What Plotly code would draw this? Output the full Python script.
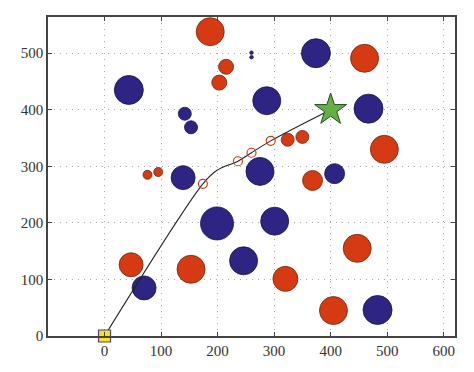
import plotly.graph_objects as go

# ---- data ----
red_x = [187, 215, 203, 76, 95, 47, 153, 460, 324, 350, 495, 368, 447, 320, 405]
red_y = [538, 476, 448, 285, 290, 126, 118, 491, 347, 352, 330, 275, 155, 101, 45]
red_w = [28, 15, 15, 9, 9, 24, 28, 28, 13, 13, 28, 20, 28, 25, 28]

blue_x = [43, 142, 153, 139, 70, 199, 246, 287, 275, 301, 374, 467, 407, 483, 260, 260]
blue_y = [435, 393, 369, 280, 85, 199, 133, 416, 291, 203, 500, 402, 287, 46, 501, 493]
blue_w = [29, 13, 13, 24, 24, 33, 28, 28, 28, 28, 29, 29, 20, 29, 3.5, 3.5]

path_x = [0, 174, 199, 236, 260, 294, 400]
path_y = [0, 269, 293, 309, 324, 345, 400]

wp_x = [174, 236, 260, 294]
wp_y = [269, 309, 324, 345]

start_x, start_y = [0], [0]
goal_x, goal_y = [400], [400]

x_ticks = [0, 100, 200, 300, 400, 500, 600]
y_ticks = [0, 100, 200, 300, 400, 500]

RED = "#d53a12"
BLUE = "#2e2483"

fig = go.Figure()
fig.add_trace(go.Scatter(
    x=red_x, y=red_y, mode="markers",
    marker=dict(size=red_w, color=RED, line=dict(color="#6a2a10", width=0.8), opacity=1),
    hoverinfo="skip", showlegend=False))
fig.add_trace(go.Scatter(
    x=blue_x, y=blue_y, mode="markers",
    marker=dict(size=blue_w, color=BLUE, line=dict(color="#1a1450", width=0.8), opacity=1),
    hoverinfo="skip", showlegend=False))
fig.add_trace(go.Scatter(
    x=path_x, y=path_y, mode="lines",
    line=dict(color="#222222", width=1.1, shape="spline", smoothing=0.9),
    hoverinfo="skip", showlegend=False))
fig.add_trace(go.Scatter(
    x=wp_x, y=wp_y, mode="markers",
    marker=dict(size=9, color="rgba(255,255,255,0)", line=dict(color=RED, width=1.2)),
    hoverinfo="skip", showlegend=False))
fig.add_trace(go.Scatter(
    x=start_x, y=start_y, mode="markers",
    marker=dict(size=12, symbol="square", color="#f5e61a", line=dict(color="#5a3c8c", width=1.2)),
    hoverinfo="skip", showlegend=False, cliponaxis=False))
fig.add_trace(go.Scatter(
    x=goal_x, y=goal_y, mode="markers",
    marker=dict(size=24, symbol="star", color="#62b046", line=dict(color="#2f4a25", width=1)),
    hoverinfo="skip", showlegend=False))

axis_common = dict(
    showgrid=True, gridcolor="#a8a8a8", griddash="1px,5px", gridwidth=1,
    zeroline=False, showline=True, linecolor="#444444", linewidth=1.5,
    mirror="ticks", ticks="inside", ticklen=4, tickwidth=1, tickcolor="#444444",
    tickfont=dict(family="Liberation Serif", size=15, color="#333333"),
    automargin=False,
)
fig.update_xaxes(range=[-100, 620], tickvals=x_ticks, **axis_common)
fig.update_yaxes(range=[0, 564], tickvals=y_ticks, **axis_common)

# page body adds an 8px offset; size and margins compensate for it
fig.update_layout(
    width=466, height=364,
    margin=dict(l=40, r=19, t=9, b=36),
    paper_bgcolor="white", plot_bgcolor="white",
)
fig.write_html("out.html")
